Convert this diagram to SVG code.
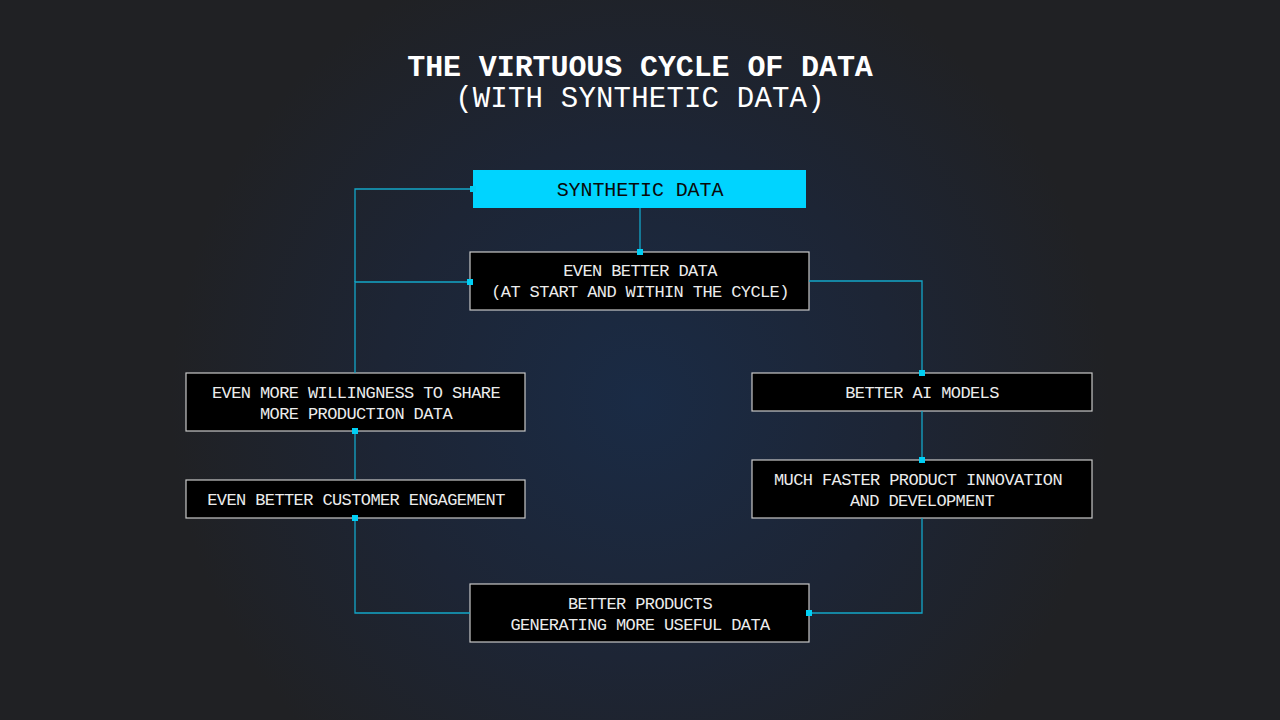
<svg xmlns="http://www.w3.org/2000/svg" width="1280" height="720" viewBox="0 0 1280 720">
  <defs>
    <radialGradient id="bg" cx="640" cy="400" r="470" gradientUnits="userSpaceOnUse">
      <stop offset="0" stop-color="#1a2b45"/>
      <stop offset="0.55" stop-color="#1d2535"/>
      <stop offset="1" stop-color="#202124"/>
    </radialGradient>
    <marker id="sq" viewBox="0 0 6 6" refX="3" refY="3" markerWidth="6" markerHeight="6" markerUnits="userSpaceOnUse">
      <rect width="6" height="6" fill="#00cff5"/>
    </marker>
    <style>
      .node rect { fill: #000000; stroke: #c8c8c8; stroke-width: 1.2; }
      .node text { font-family: "Liberation Mono", "DejaVu Sans Mono", monospace; font-size: 17px; letter-spacing: -0.6px; fill: #ececec; text-anchor: middle; }
      #n-synthetic rect { fill: #00d4ff; stroke: none; }
      #n-synthetic text { fill: #0a0a0a; font-size: 20px; letter-spacing: -0.1px; }
      .conn path { fill: none; stroke: #13a6c8; stroke-width: 1.3; marker-end: url(#sq); }
      .title { font-family: "Liberation Mono", "DejaVu Sans Mono", monospace; fill: #ffffff; text-anchor: middle; }
    </style>
  </defs>
  <rect width="1280" height="720" fill="#202124"/>
  <rect width="1280" height="720" fill="url(#bg)"/>

  <g id="title">
    <text class="title" x="640" y="76" font-size="30" font-weight="bold" letter-spacing="-0.1">THE VIRTUOUS CYCLE OF DATA</text>
    <text class="title" x="640" y="107" font-size="29" letter-spacing="0.2" fill="#e8e8e8">(WITH SYNTHETIC DATA)</text>
  </g>

  <g id="n-synthetic" class="node">
    <rect x="473" y="170" width="333" height="38"/>
    <text x="640" y="196">SYNTHETIC DATA</text>
  </g>
  <g id="n-better-data" class="node">
    <rect x="470" y="252" width="339" height="58"/>
    <text x="640" y="276">EVEN BETTER DATA</text>
    <text x="640" y="297">(AT START AND WITHIN THE CYCLE)</text>
  </g>
  <g id="n-ai-models" class="node">
    <rect x="752" y="373" width="340" height="38"/>
    <text x="922" y="398">BETTER AI MODELS</text>
  </g>
  <g id="n-innovation" class="node">
    <rect x="752" y="460" width="340" height="58"/>
    <text x="918" y="485">MUCH FASTER PRODUCT INNOVATION</text>
    <text x="922" y="506">AND DEVELOPMENT</text>
  </g>
  <g id="n-products" class="node">
    <rect x="470" y="584" width="339" height="58"/>
    <text x="640" y="609">BETTER PRODUCTS</text>
    <text x="640" y="630">GENERATING MORE USEFUL DATA</text>
  </g>
  <g id="n-engagement" class="node">
    <rect x="186" y="480" width="339" height="38"/>
    <text x="356" y="505">EVEN BETTER CUSTOMER ENGAGEMENT</text>
  </g>
  <g id="n-willingness" class="node">
    <rect x="186" y="373" width="339" height="58"/>
    <text x="356" y="398">EVEN MORE WILLINGNESS TO SHARE</text>
    <text x="356" y="419">MORE PRODUCTION DATA</text>
  </g>

  <g id="connectors" class="conn">
    <path d="M640 208 V252"/>
    <path d="M809 281 H922 V373"/>
    <path d="M922 411 V460"/>
    <path d="M922 518 V613 H809"/>
    <path d="M470 613 H355 V518"/>
    <path d="M355 480 V431"/>
    <path d="M355 373 V282 H470"/>
    <path d="M355 282 V189 H473"/>
  </g>
</svg>
